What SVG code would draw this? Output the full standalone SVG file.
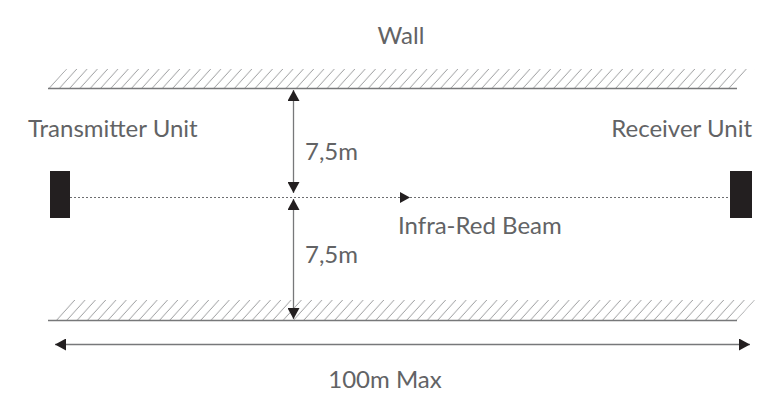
<svg xmlns="http://www.w3.org/2000/svg" width="768" height="419" viewBox="0 0 768 419">
<style>
text{font-family:Lato,"Open Sans",sans-serif;font-size:24px;fill:#626365}
.base{stroke:#77787a;stroke-width:1.6;fill:none}
.dim{stroke:#77787a;stroke-width:1.3;fill:none}
.beam{stroke:#6d6e70;stroke-width:1;stroke-dasharray:2 2;fill:none}
.unit{fill:#231f20}
</style>
<defs>
<pattern id="hatch" patternUnits="userSpaceOnUse" width="10.3" height="40" patternTransform="skewX(-42)">
<line x1="5" y1="0" x2="5" y2="40" stroke="#9a9b9d" stroke-width="1"/>
</pattern>
<marker id="ah" markerUnits="userSpaceOnUse" markerWidth="12" markerHeight="12" refX="11" refY="6" orient="auto-start-reverse">
<path d="M0,0 L11,6 L0,12 z" fill="#231f20"/>
</marker>
</defs>
<g id="wall-top">
<polygon points="48,88 737,88 755,69 66,69" fill="url(#hatch)"/>
<line class="base" x1="48" y1="88.5" x2="737" y2="88.5"/>
</g>
<g id="wall-bottom">
<polygon points="48,320 737,320 755,300 66,300" fill="url(#hatch)"/>
<line class="base" x1="48" y1="320.5" x2="737" y2="320.5"/>
</g>
<g id="transmitter">
<rect class="unit" x="50" y="171" width="20" height="47"/>
<text x="28" y="137">Transmitter Unit</text>
</g>
<g id="receiver">
<rect class="unit" x="730" y="171" width="22" height="47"/>
<text x="752" y="137" text-anchor="end">Receiver Unit</text>
</g>
<g id="labels">
<text x="401" y="44" text-anchor="middle">Wall</text>
<text x="305" y="160">7,5m</text>
<text x="305" y="263">7,5m</text>
<text x="398" y="234">Infra-Red Beam</text>
<text x="385" y="388" text-anchor="middle">100m Max</text>
</g>
<g id="connectors">
<line class="beam" x1="70" y1="197.5" x2="730" y2="197.5"/>
<path d="M400,192 L410,197.5 L400,203 z" fill="#231f20"/>
<line class="dim" x1="293.5" y1="90" x2="293.5" y2="193" marker-start="url(#ah)" marker-end="url(#ah)"/>
<line class="dim" x1="293.5" y1="199" x2="293.5" y2="319" marker-start="url(#ah)" marker-end="url(#ah)"/>
<line class="dim" x1="55" y1="344.5" x2="750" y2="344.5" marker-start="url(#ah)" marker-end="url(#ah)"/>
</g>
</svg>
